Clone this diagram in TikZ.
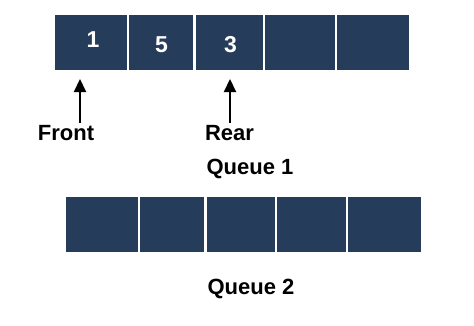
\documentclass[tikz,border=0pt]{standalone}
\usepackage{fontspec}
\setmainfont{Liberation Sans}
\usetikzlibrary{arrows.meta}
\definecolor{cellblue}{HTML}{253D5B}
\begin{document}
\begin{tikzpicture}[x=1pt,y=-1pt,
  cell/.style={fill=cellblue,draw=none},
  num/.style={text=white,font=\bfseries\fontsize{23}{23}\selectfont,inner sep=0pt,anchor=center},
  lbl/.style={text=black,font=\bfseries\fontsize{22}{22}\selectfont,inner sep=0pt,anchor=center},
  ptr/.style={line width=2.2pt,-{Triangle[length=13pt,width=12pt]}}]
\useasboundingbox (0,0) rectangle (474,325);
% Queue 1 cells
\fill[cell] (55,15) rectangle (126.6,70.3);
\fill[cell] (128.8,15) rectangle (193.3,70.3);
\fill[cell] (195.8,15) rectangle (262.8,70.3);
\fill[cell] (265.3,15) rectangle (334.8,70.3);
\fill[cell] (336.8,15) rectangle (409.3,70.3);
\node[num] (n1) at (93,40) {1};
\node[num] (n5) at (161.5,44.5) {5};
\node[num] (n3) at (230.5,44.5) {3};
% pointers
\node[lbl] (front) at (66,133) {Front};
\node[lbl] (rear) at (229.5,133) {Rear};
\coordinate (ftip) at (80,79);
\coordinate (rtip) at (230,79);
\draw[ptr] (80,123) -- (ftip);
\draw[ptr] (230,123) -- (rtip);
\node[lbl] (q1) at (250,168.5) {Queue 1};
% Queue 2 cells
\fill[cell] (66,196.7) rectangle (138.3,252.3);
\fill[cell] (140.3,196.7) rectangle (204.3,252.3);
\fill[cell] (206.7,196.7) rectangle (274.7,252.3);
\fill[cell] (276.7,196.7) rectangle (345.7,252.3);
\fill[cell] (347.7,196.7) rectangle (420.7,252.3);
\node[lbl] (q2) at (251,289) {Queue 2};
\end{tikzpicture}
\end{document}
